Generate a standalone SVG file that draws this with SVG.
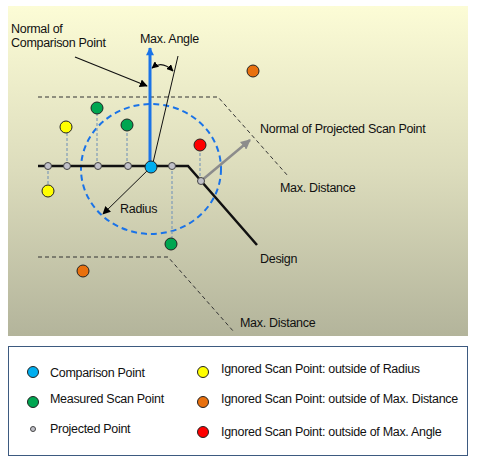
<svg xmlns="http://www.w3.org/2000/svg" width="483" height="470" viewBox="0 0 483 470">
<defs>
<linearGradient id="bg" x1="0" y1="0" x2="0" y2="1">
<stop offset="0" stop-color="#fcfcd6"/>
<stop offset="0.5" stop-color="#dcdcbc"/>
<stop offset="1" stop-color="#b3b49b"/>
</linearGradient>
<marker id="ab" viewBox="0 0 10 10" refX="9" refY="5" markerWidth="8" markerHeight="8" markerUnits="userSpaceOnUse" orient="auto">
<path d="M0,0 L10,5 L0,10 z" fill="#000"/>
</marker>
<marker id="abs" viewBox="0 0 10 10" refX="9" refY="5" markerWidth="7" markerHeight="7" markerUnits="userSpaceOnUse" orient="auto-start-reverse">
<path d="M0,0 L10,5 L0,10 z" fill="#000"/>
</marker>
<marker id="abl" viewBox="0 0 10 10" refX="9" refY="5" markerWidth="10" markerHeight="8" markerUnits="userSpaceOnUse" orient="auto">
<path d="M0,0 L10,5 L0,10 z" fill="#1a73e8"/>
</marker>
<marker id="agr" viewBox="0 0 10 10" refX="9" refY="5" markerWidth="10" markerHeight="10" markerUnits="userSpaceOnUse" orient="auto">
<path d="M0,0 L10,5 L0,10 z" fill="#8c8c8c"/>
</marker>
</defs>
<style>
text{font-family:"Liberation Sans",Arial,sans-serif;font-size:12.5px;letter-spacing:-0.3px;fill:#111}
.pt{stroke:#222;stroke-width:1}
.proj{fill:#c0c0c8;stroke:#444;stroke-width:1}
.drop{stroke:#7f9cb8;stroke-width:1.2;stroke-dasharray:3,2;fill:none}
.maxd{stroke:#333;stroke-width:1;stroke-dasharray:4,3;fill:none}
.blue{fill:#00aeef}.green{fill:#00a651}.yellow{fill:#ffff00}.red{fill:#ff0000}.orange{fill:#e8700e}
</style>
<rect x="8" y="6" width="460" height="330" fill="url(#bg)"/>
<g id="max-distance-lines">
<polyline class="maxd" points="38,97 218,97 288,176"/>
<polyline class="maxd" points="38,257 168,257 234,332"/>
</g>
<g id="radius-circle">
<ellipse cx="151" cy="169" rx="70" ry="65" fill="none" stroke="#1a73e8" stroke-width="2" stroke-dasharray="6,4"/>
</g>
<g id="connectors">
<line class="drop" x1="48" y1="166" x2="48" y2="191"/>
<line class="drop" x1="67" y1="166" x2="67" y2="127"/>
<line class="drop" x1="97" y1="166" x2="97" y2="108"/>
<line class="drop" x1="127" y1="166" x2="127" y2="125"/>
<line class="drop" x1="172" y1="166" x2="172" y2="244"/>
<line class="drop" x1="200" y1="181" x2="200" y2="145"/>
<line x1="152" y1="167" x2="178" y2="56" stroke="#111" stroke-width="1"/>
<path d="M152,68 Q162,60 173,71" fill="none" stroke="#111" stroke-width="1.2" marker-start="url(#abs)" marker-end="url(#abs)"/>
<line x1="75" y1="57" x2="147" y2="86" stroke="#111" stroke-width="1.2" marker-end="url(#ab)"/>
<line x1="151" y1="167" x2="103" y2="214" stroke="#111" stroke-width="1" marker-end="url(#ab)"/>
<line x1="201" y1="181" x2="250" y2="140" stroke="#8c8c8c" stroke-width="2.5" marker-end="url(#agr)"/>
</g>
<g id="design">
<polyline points="38,166 188,166 257,245" fill="none" stroke="#111" stroke-width="2.5"/>
</g>
<g id="normal-comparison">
<line x1="150" y1="167" x2="150" y2="48" stroke="#1a73e8" stroke-width="3" marker-end="url(#abl)"/>
</g>
<g id="projected-points">
<circle class="proj" cx="48" cy="166" r="3.5"/>
<circle class="proj" cx="67" cy="166" r="3.5"/>
<circle class="proj" cx="98" cy="166" r="3.5"/>
<circle class="proj" cx="128" cy="166" r="3.5"/>
<circle class="proj" cx="172" cy="166" r="3.5"/>
<circle class="proj" cx="201" cy="181" r="3.5"/>
</g>
<g id="comparison-point"><circle class="pt blue" cx="151" cy="167" r="6"/></g>
<g id="scan-points">
<circle class="pt yellow" cx="48" cy="191" r="6"/>
<circle class="pt yellow" cx="66" cy="127" r="6"/>
<circle class="pt green" cx="97" cy="108" r="6"/>
<circle class="pt green" cx="127" cy="125" r="6"/>
<circle class="pt green" cx="171" cy="244" r="6"/>
<circle class="pt red" cx="200" cy="145" r="6"/>
<circle class="pt orange" cx="253" cy="71" r="6"/>
<circle class="pt orange" cx="83" cy="271" r="6"/>
</g>
<g id="labels">
<text x="11" y="33">Normal of</text>
<text x="11" y="47">Comparison Point</text>
<text x="140" y="43">Max. Angle</text>
<text x="260" y="133">Normal of Projected Scan Point</text>
<text x="280" y="192">Max. Distance</text>
<text x="120" y="213">Radius</text>
<text x="260" y="263">Design</text>
<text x="240" y="327">Max. Distance</text>
</g>
<g id="legend">
<rect x="8.5" y="346.5" width="459" height="109" fill="#fff" stroke="#3d5a80" stroke-width="1"/>
<circle class="pt blue" cx="33" cy="372" r="5.5"/>
<text x="50" y="377">Comparison Point</text>
<circle class="pt green" cx="33" cy="402" r="5.5"/>
<text x="50" y="403">Measured Scan Point</text>
<circle class="proj" cx="33" cy="429" r="2.5"/>
<text x="50" y="433">Projected Point</text>
<circle class="pt yellow" cx="203" cy="372" r="5.5"/>
<text x="221" y="373">Ignored Scan Point: outside of Radius</text>
<circle class="pt orange" cx="203" cy="402" r="5.5"/>
<text x="221" y="403">Ignored Scan Point: outside of Max. Distance</text>
<circle class="pt red" cx="203" cy="432" r="5.5"/>
<text x="221" y="436">Ignored Scan Point: outside of Max. Angle</text>
</g>
</svg>
